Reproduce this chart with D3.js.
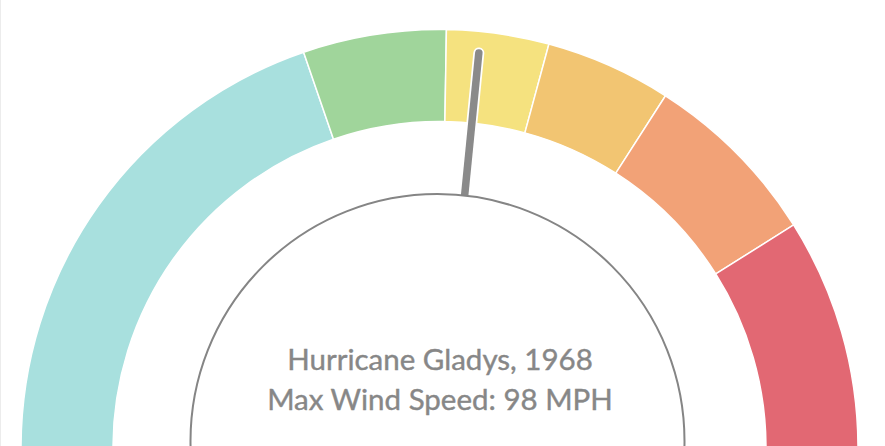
<!DOCTYPE html>
<html>
<head>
<meta charset="utf-8">
<script src="https://cdn.jsdelivr.net/npm/d3@7"></script>
<style>
  html, body { margin: 0; padding: 0; background: #fff; }
  svg { display: block; }
</style>
</head>
<body>
<svg id="chart" width="885" height="446"></svg>
<script>
// ---- data ----
const categories = ["Tropical Storm", "Category 1", "Category 2", "Category 3", "Category 4", "Category 5"];
const bandStarts = [0, 75, 96, 111, 129.5, 156];     // mph, start of each band
const bandEnds   = [75, 96, 111, 129.5, 156, 190];   // mph, end of each band
const bandColors = ["#a8e0de", "#a0d59b", "#f5e27f", "#f2c572", "#f2a277", "#e26873"];
const scaleMin = 0, scaleMax = 190;
const needleValue = 101;           // position of the needle
const titleLines = ["Hurricane Gladys, 1968", "Max Wind Speed: 98 MPH"];

// ---- layout ----
const svg = d3.select("#chart");
const cx = 439.5, cy = 448;
const outerR = 418.5, innerR = 326.5;

const angle = d3.scaleLinear()
  .domain([scaleMin, scaleMax])
  .range([-Math.PI / 2, Math.PI / 2]);

// faint left border
svg.append("line")
  .attr("x1", 0.5).attr("x2", 0.5).attr("y1", 0).attr("y2", 446)
  .attr("stroke", "#ececec").attr("stroke-width", 1);

const g = svg.append("g").attr("transform", `translate(${cx},${cy})`);

const arc = d3.arc().innerRadius(innerR).outerRadius(outerR);

g.selectAll("path.band")
  .data(categories.map((c, i) => ({ c, s: bandStarts[i], e: bandEnds[i], col: bandColors[i] })))
  .join("path")
  .attr("class", "band")
  .attr("d", d => arc({ startAngle: angle(d.s), endAngle: angle(d.e) }))
  .attr("fill", d => d.col)
  .attr("stroke", "#ffffff")
  .attr("stroke-width", 1.5);

// needle
const a = angle(needleValue);
const needleR = 397;
const nx = Math.sin(a) * needleR, ny = -Math.cos(a) * needleR;
g.append("line")
  .attr("x1", 0).attr("y1", 0).attr("x2", nx).attr("y2", ny)
  .attr("stroke", "#ffffff").attr("stroke-width", 11).attr("stroke-linecap", "round");
g.append("line")
  .attr("x1", 0).attr("y1", 0).attr("x2", nx).attr("y2", ny)
  .attr("stroke", "#8a8a8a").attr("stroke-width", 7.5).attr("stroke-linecap", "round");

// inner dial circle
svg.append("circle")
  .attr("cx", 437.5).attr("cy", 441).attr("r", 247)
  .attr("fill", "#ffffff")
  .attr("stroke", "#858585").attr("stroke-width", 2);

// text
svg.selectAll("text.title")
  .data(titleLines)
  .join("text")
  .attr("class", "title")
  .attr("x", 440)
  .attr("y", (d, i) => 370 + i * 40)
  .attr("text-anchor", "middle")
  .attr("font-family", "Lato, 'Open Sans', sans-serif")
  .attr("font-size", 29.5)
  .attr("fill", "#878787")
  .attr("stroke", "#878787")
  .attr("stroke-width", 0.4)
  .text(d => d);
</script>
</body>
</html>
